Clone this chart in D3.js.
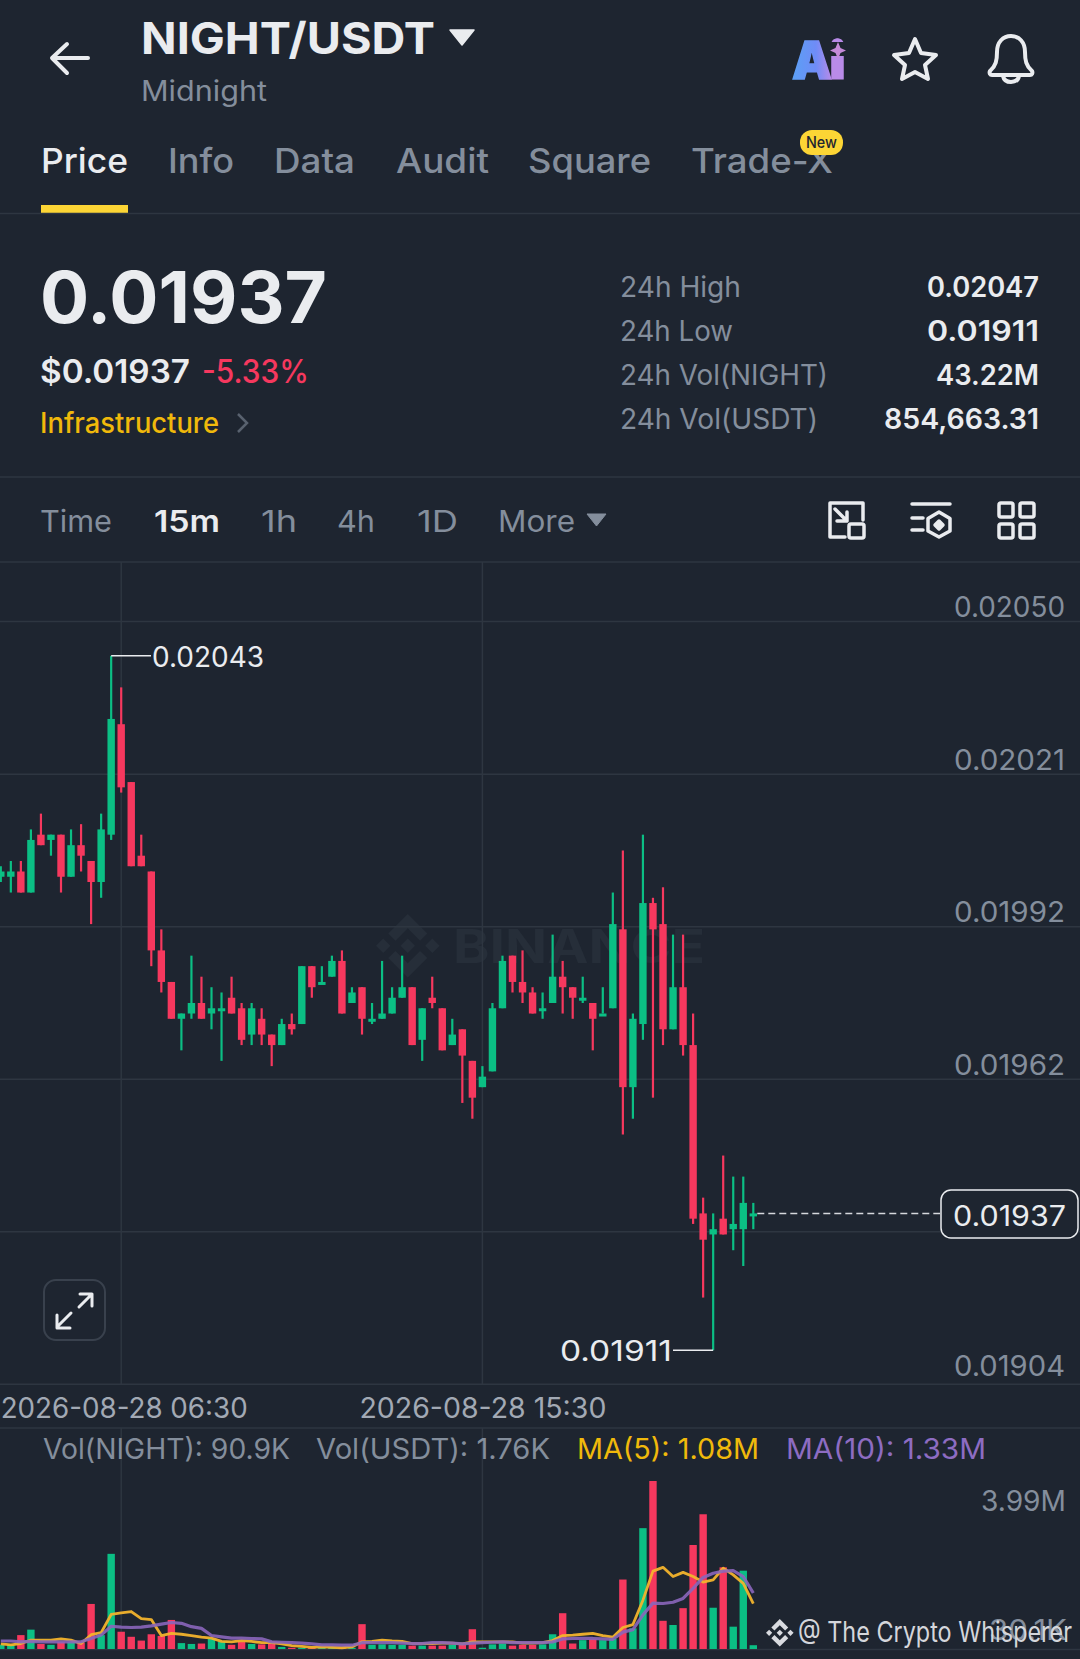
<!DOCTYPE html>
<html><head><meta charset="utf-8">
<script src="https://cdn.jsdelivr.net/npm/d3@7/dist/d3.min.js"></script>
<style>html,body{margin:0;padding:0;background:#1e2530;overflow:hidden}svg{display:block}text{font-family:Inter,"Noto Sans",sans-serif}</style>
</head><body><svg id="c" width="1080" height="1659"></svg>
<script>
// prices in units of 0.00001 USDT
const PRICE_UNIT = 0.00001;
const opens = [2001,2001,2002,1998,2009,2008,2009,2001,2007,2004,2000,2009,2030,2019,2005,2002,1987,1981,1974,1975,1977,1975,1976,1978,1976,1971,1974,1971,1969,1973,1973,1984,1981,1982,1985,1977,1980,1974,1974,1975,1978,1980,1970,1978,1976,1969,1972,1966,1961,1964,1976,1986,1981,1979,1976,1977,1982,1980,1978,1977,1975,1976,1991,1961,1973,1996,1992,1972,1980,1969,1937,1933,1936,1934,1934,1937];
const closes = [2002,2002,1998,2008,2007,2009,2001,2007,2005,2000,2010,2031,2018,2003,2003,1987,1981,1974,1975,1977,1974,1976,1976,1975,1970,1976,1971,1969,1973,1972,1984,1980,1981,1985,1975,1979,1974,1974,1975,1978,1980,1969,1976,1977,1968,1971,1967,1959,1963,1976,1985,1981,1979,1975,1976,1982,1980,1978,1978,1974,1975,1992,1961,1974,1996,1991,1972,1980,1969,1936,1932,1934,1933,1935,1939,1937];
const highs = [2003,2004,2004,2010,2013,2009,2009,2010,2011,2004,2013,2043,2037,2019,2009,2002,1991,1981,1975,1986,1982,1980,1979,1982,1977,1977,1976,1971,1974,1975,1984,1984,1984,1986,1987,1980,1980,1977,1985,1980,1986,1980,1976,1982,1976,1974,1972,1966,1965,1977,1986,1986,1987,1980,1979,1990,1985,1980,1982,1977,1980,1998,2006,1975,2009,1997,1999,1990,1990,1975,1940,1937,1948,1944,1944,1939];
const lows = [2000,1998,1998,1998,2007,2005,1998,2001,2002,1992,1997,2008,2017,2003,2003,1984,1979,1974,1968,1974,1974,1972,1966,1975,1969,1969,1969,1965,1969,1971,1973,1978,1981,1982,1975,1977,1971,1973,1974,1975,1978,1969,1966,1976,1968,1969,1958,1955,1961,1964,1976,1979,1977,1975,1974,1977,1975,1974,1977,1968,1975,1976,1952,1955,1970,1959,1969,1972,1967,1935,1921,1911,1933,1930,1927,1934];
// volume in millions
const volumes = [.1,.1,.33,.46,.12,.1,.17,.17,.15,1.07,.33,2.26,.41,.29,.2,.35,.31,.69,.14,.12,.13,.25,.17,.1,.17,.12,.11,.13,.05,.03,.03,.03,.03,.03,.03,.03,.59,.1,.11,.1,.1,.08,.08,.08,.08,.1,.1,.47,.03,.11,.13,.08,.1,.1,.11,.35,.85,.13,.21,.23,.21,.24,1.65,.49,2.87,3.99,.67,.57,.97,2.47,3.2,.98,1.94,.53,1.86,.09];
const ma5 = [.12,.10,.13,.21,.21,.21,.24,.21,.13,.34,.39,.82,.86,.89,.72,.70,.32,.37,.35,.32,.28,.26,.18,.17,.20,.18,.15,.15,.12,.08,.06,.04,.05,.04,.03,.05,.17,.18,.21,.19,.18,.13,.13,.13,.14,.14,.12,.17,.17,.17,.17,.17,.14,.14,.15,.20,.32,.33,.35,.37,.32,.28,.51,.58,1.16,1.85,1.94,1.72,1.82,1.72,1.59,1.64,1.92,1.76,1.56,1.08];
const ma10 = [.19,.19,.17,.18,.17,.17,.17,.17,.17,.25,.33,.54,.52,.51,.52,.55,.59,.63,.61,.53,.49,.32,.29,.26,.26,.25,.24,.17,.16,.15,.14,.12,.10,.10,.09,.09,.15,.15,.15,.15,.14,.13,.13,.15,.15,.14,.12,.14,.15,.16,.17,.15,.15,.15,.15,.17,.24,.25,.25,.25,.24,.23,.40,.46,.81,1.09,1.08,1.11,1.20,1.44,1.70,1.80,1.85,1.86,1.72,1.33];
const priceTicks = [0.0204962,0.0202060,0.0199160,0.0196260,0.0193360,0.0190460];
const priceTickLabels = ["0.02050","0.02021","0.01992","0.01962","0.01933","0.01904"];
const timeTickIndex = [12,48];
const timeTickLabels = ["2026-08-28 06:30","2026-08-28 15:30"];
const tabs = ["Price","Info","Data","Audit","Square","Trade-X"];
const statLabels = ["24h High","24h Low","24h Vol(NIGHT)","24h Vol(USDT)"];
const statValues = ["0.02047","0.01911","43.22M","854,663.31"];
const intervals = ["Time","15m","1h","4h","1D","More"];

const BG="#1e2530",GRID="#2e3641",GREY="#848e9c",WHITE="#eaecef",UP="#0bbf84",DOWN="#f6385e",YEL="#fcd535";
const svg=d3.select("#c");
svg.append("rect").attr("width",1080).attr("height",1659).attr("fill",BG);
const defs=svg.append("defs");
const g0=defs.append("linearGradient").attr("id","ai").attr("x1",0).attr("y1",0).attr("x2",1).attr("y2",0);
g0.append("stop").attr("offset","0%").attr("stop-color","#5aa0f5");
g0.append("stop").attr("offset","60%").attr("stop-color","#6f8cf7");
g0.append("stop").attr("offset","100%").attr("stop-color","#b98be8");

function T(x,y,s,size,fill,weight,width,parent){
  const t=(parent||svg).append("text").attr("x",width?x-1:x).attr("y",y).text(s).attr("font-size",size).attr("fill",fill).attr("font-weight",weight||400);
  if(width) t.attr("textLength",width+2).attr("lengthAdjust","spacingAndGlyphs");
  return t;
}
const icon=()=>svg.append("g").attr("fill","none").attr("stroke","#eaecef").attr("stroke-linecap","round").attr("stroke-linejoin","round");

// header
icon().attr("stroke-width",4).append("path").attr("d","M88 58H54M67 44L52 58L67 73");
T(142,54,"NIGHT/USDT",44,WHITE,700,292);
svg.append("path").attr("d","M450 30H474L462 45Z").attr("fill",WHITE).attr("stroke",WHITE).attr("stroke-width",1.5).attr("stroke-linejoin","round");
T(142,101,"Midnight",28,GREY,400,124);
T(793,79,"A",52,"url(#ai)",900,38).attr("stroke","url(#ai)").attr("stroke-width",1.5);
T(830,79,"i",52,"#b98be8",900,15).attr("stroke","#b98be8").attr("stroke-width",1);
svg.append("rect").attr("x",830).attr("y",42).attr("width",16).attr("height",14).attr("fill",BG);
svg.append("path").attr("d","M838 42l2.5 6 5.5 2.5-5.5 2.5-2.5 6-2.5-6-5.5-2.5 5.5-2.5z").attr("fill","#c58ad8");
icon().attr("stroke-width",4).append("path").attr("d","M915 39L921 53L936 55L925 65L928 79L915 72L902 79L905 65L894 55L909 53Z");
const bell=icon().attr("stroke-width",4);
bell.append("path").attr("d","M990 71C996 66 997 60 997 52C997 42 1003 36 1011 36C1019 36 1025 42 1025 52C1025 60 1026 66 1032 71C1033 73 1032 75 1030 75H992C990 75 989 73 990 71Z");
bell.append("path").attr("d","M1003 76C1004 81 1007 82 1011 82C1015 82 1018 81 1019 76");

// tabs
const tabX=[42,169,275,397,529,692],tabW=[85,64,79,91,121,140];
tabs.forEach((s,i)=>T(tabX[i],173,s,34,i?GREY:WHITE,500,tabW[i]));
svg.append("rect").attr("x",41).attr("y",205).attr("width",87).attr("height",8).attr("fill",YEL);
svg.append("line").attr("x1",0).attr("x2",1080).attr("y1",213.5).attr("y2",213.5).attr("stroke",GRID).attr("stroke-width",1.5);
svg.append("rect").attr("x",800).attr("y",130).attr("width",43).attr("height",25).attr("rx",12).attr("fill","#fcd535");
T(807,148,"New",16,"#1e2530",500,29);

// summary
T(41,323,"0.01937",72,WHITE,700,285);
T(41,383,"$0.01937",33,WHITE,600,148);
T(203,383,"-5.33%",32,"#f6385e",500,105);
T(41,433,"Infrastructure",28,"#f0b90b",500,177);
svg.append("path").attr("d","M238 414L247 423L238 432").attr("fill","none").attr("stroke","#59626f").attr("stroke-width",2.5);
const statW=[119,111,206,196],valX=[928,928,937,885],valW=[110,110,101,153],statY=[297,341,385,429];
statLabels.forEach((s,i)=>{T(621,statY[i],s,28,GREY,400,statW[i]);T(valX[i],statY[i],statValues[i],28,WHITE,600,valW[i]);});
svg.append("line").attr("x1",0).attr("x2",1080).attr("y1",477).attr("y2",477).attr("stroke",GRID).attr("stroke-width",1.5);
svg.append("line").attr("x1",0).attr("x2",1080).attr("y1",562).attr("y2",562).attr("stroke",GRID).attr("stroke-width",1.5);

// interval row
const intX=[41,155,262,338,418,499],intW=[70,64,34,36,39,75];
intervals.forEach((s,i)=>T(intX[i],532,s,30,i==1?WHITE:GREY,i==1?600:400,intW[i]));
svg.append("path").attr("d","M587 514H606L596.5 526Z").attr("fill",GREY).attr("stroke",GREY).attr("stroke-linejoin","round");
const ic1=icon().attr("stroke-width",3.5).attr("transform","translate(-1,0)");
ic1.append("path").attr("d","M846 537H831V503H864V520");
ic1.append("rect").attr("x",850).attr("y",524).attr("width",15).attr("height",14).attr("rx",2);
ic1.append("path").attr("d","M836 509L848 521M848 512V521H838");
const ic2=icon().attr("stroke-width",3.5).attr("transform","translate(-1,0)");
ic2.append("path").attr("d","M913 504H951M913 518H924M913 530H924");
ic2.append("path").attr("d","M940 512L951 518.5V531L940 537L929 531V518.5Z");
ic2.append("path").attr("d","M940 521L944 525L940 529L936 525Z").attr("fill","#eaecef");
const ic3=icon().attr("stroke-width",3.5).attr("transform","translate(-1,0)");
[[1000,503],[1021,503],[1000,524],[1021,524]].forEach(p=>ic3.append("rect").attr("x",p[0]).attr("y",p[1]).attr("width",14).attr("height",14).attr("rx",2));

// scales
const n=closes.length;
const x=d3.scaleLinear().domain([0,n-1]).range([0.8,753.3]);
const y=d3.scaleLinear().domain([0.01904,0.02050]).range([1387,619]);
const yV=d3.scaleLinear().domain([0,3.99]).range([1649,1481]);

// watermark
const logoD="M16.624 13.9202l2.7175 2.7154-7.353 7.353-7.353-7.352 2.7175-2.7164 4.6355 4.6595 4.6356-4.6595zm4.6366-4.6366L24 12l-2.7154 2.7164L18.5682 12l2.6924-2.7164zm-9.272.001l2.7163 2.6914-2.7164 2.7174v-.001L9.2721 12l2.7164-2.7154zm-9.2722-.001L5.4088 12l-2.6914 2.6924L0 12l2.7164-2.7164zM11.9885.0115l7.353 7.329-2.7174 2.7154-4.6356-4.6356-4.6355 4.6595-2.7174-2.7154 7.353-7.353z";
svg.append("path").attr("d",logoD).attr("fill","#262e39").attr("transform","translate(376,914) scale(2.65)");
T(454,963,"BINANCE",46,"#262e39",700,250);

// price axis + grid
const axP=svg.append("g").call(d3.axisRight(y).tickValues(priceTicks).tickSize(1080).tickFormat((d,i)=>priceTickLabels[i]));
axP.select(".domain").remove();
axP.selectAll(".tick line").attr("stroke",GRID).attr("stroke-width",1.5);
axP.selectAll(".tick text").attr("x",1065).attr("dy",0).attr("y",(d,i)=>i==priceTicks.length-1?-8:-4.5).attr("text-anchor","end").attr("fill",GREY).attr("font-size",28).attr("font-family","Inter,sans-serif").attr("textLength",111).attr("lengthAdjust","spacingAndGlyphs");

// time axis
const axT=svg.append("g").attr("transform","translate(0,1384)").call(d3.axisBottom(x).tickValues(timeTickIndex).tickSize(0).tickFormat((d,i)=>timeTickLabels[i]));
axT.select(".domain").remove();
axT.selectAll(".tick text").attr("x",(d,i)=>i?0:2.5).attr("y",34).attr("dy",0).attr("fill","#a2a9b4").attr("font-size",28).attr("font-family","Inter,sans-serif").attr("textLength",247).attr("lengthAdjust","spacingAndGlyphs");
timeTickIndex.forEach(i=>{
  svg.append("line").attr("x1",x(i)).attr("x2",x(i)).attr("y1",562).attr("y2",1384).attr("stroke",GRID).attr("stroke-width",1.5);
  svg.append("line").attr("x1",x(i)).attr("x2",x(i)).attr("y1",1428).attr("y2",1649).attr("stroke",GRID).attr("stroke-width",1.5);
});
svg.append("line").attr("x1",0).attr("x2",1080).attr("y1",1428).attr("y2",1428).attr("stroke",GRID).attr("stroke-width",1.5);

// candles
const idx=d3.range(n),BW=7.4,up=i=>closes[i]>=opens[i],col=i=>up(i)?UP:DOWN,P=v=>v*PRICE_UNIT;
const gc=svg.append("g");
gc.selectAll(".w").data(idx).join("line").attr("x1",i=>x(i)).attr("x2",i=>x(i)).attr("y1",i=>y(P(highs[i]))).attr("y2",i=>y(P(lows[i]))).attr("stroke",col).attr("stroke-width",2.2);
gc.selectAll(".b").data(idx).join("rect").attr("x",i=>x(i)-BW/2).attr("width",BW)
  .attr("y",i=>y(P(Math.max(opens[i],closes[i]))))
  .attr("height",i=>Math.max(3,Math.abs(y(P(opens[i]))-y(P(closes[i]))))).attr("fill",col);

// markers: high, low, last
const iHi=d3.maxIndex(highs),iLo=d3.minIndex(lows),yHi=y(P(highs[iHi])),yLo=y(P(lows[iLo]));
svg.append("path").attr("d",`M${x(iHi)} ${yHi}H151`).attr("stroke","#eaecef").attr("stroke-width",1.5).attr("fill","none");
T(153,667,d3.format(".5f")(P(highs[iHi])),28,WHITE,400,110);
svg.append("path").attr("d",`M${x(iLo)} ${yLo}H673`).attr("stroke","#eaecef").attr("stroke-width",1.5).attr("fill","none");
T(561,1361,d3.format(".5f")(P(lows[iLo])),28,WHITE,400,110);
const yL=y(P(closes[n-1]));
svg.append("line").attr("x1",x(n-1)+4).attr("x2",940).attr("y1",yL).attr("y2",yL).attr("stroke","#d5d8dc").attr("stroke-width",1.5).attr("stroke-dasharray","7 4");
svg.append("rect").attr("x",941).attr("y",1190).attr("width",137).attr("height",48).attr("rx",10).attr("fill",BG).attr("stroke","#eaecef").attr("stroke-width",1.5);
T(954,1225.5,d3.format(".5f")(P(closes[n-1])),28,WHITE,400,111);

// expand button
svg.append("rect").attr("x",44).attr("y",1280).attr("width",61).attr("height",60).attr("rx",12).attr("fill",BG).attr("stroke","#39414d").attr("stroke-width",2);
const ex=icon().attr("stroke-width",3);
ex.append("path").attr("d","M57 1327L71 1313M57 1315V1328H70M92 1294L79 1307M80 1294H92V1306");

// volume legend
const legX=[44,317,578,787],legW=[245,232,180,198],legC=[GREY,GREY,"#f0b90b","#8d6cc2"];
[`Vol(NIGHT): 90.9K`,`Vol(USDT): 1.76K`,`MA(5): 1.08M`,`MA(10): 1.33M`].forEach((s,i)=>T(legX[i],1459,s,28,legC[i],400,legW[i]));
T(982,1511,"3.99M",28,GREY,400,83);
svg.append("line").attr("x1",0).attr("x2",1080).attr("y1",1649.5).attr("y2",1649.5).attr("stroke",GRID).attr("stroke-width",1.5);

// volume bars + MA lines
svg.append("g").selectAll("rect").data(idx).join("rect").attr("x",i=>x(i)-BW/2).attr("width",BW)
  .attr("y",i=>yV(volumes[i])).attr("height",i=>yV(0)-yV(volumes[i])).attr("fill",col);
const ln=a=>d3.line().x((d,i)=>x(i)).y(d=>yV(d))(a);
svg.append("path").attr("d",ln(ma5)).attr("fill","none").attr("stroke","#f3b32c").attr("stroke-width",2.8).attr("stroke-linejoin","round").attr("opacity",.95);
svg.append("path").attr("d",ln(ma10)).attr("fill","none").attr("stroke","#8a66bb").attr("stroke-width",3.2).attr("stroke-linejoin","round").attr("opacity",.9);

// footer watermark
T(990,1640,"30.1K",28,GREY,400,76);
svg.append("path").attr("d",logoD).attr("fill","#d9dbe0").attr("transform","translate(766,1619) scale(1.15)");
T(799,1642,"@ The Crypto Whisperer",28,"#d4d6db",400,272);
</script></body></html>
